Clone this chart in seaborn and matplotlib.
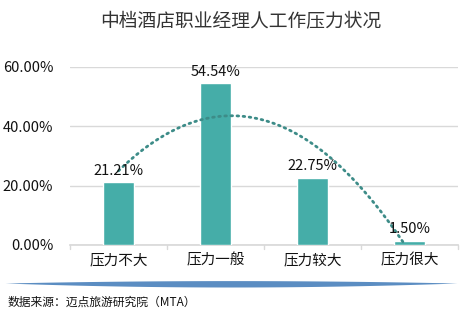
import numpy as np
import pandas as pd
import seaborn as sns
import matplotlib.pyplot as plt
from matplotlib.ticker import FuncFormatter

sns.set_theme(style='white')
plt.rcParams['font.family'] = ['Noto Sans CJK SC', 'DejaVu Sans']

categories = ['压力不大', '压力一般', '压力较大', '压力很大']
values = [21.21, 54.54, 22.75, 1.50]
title = '中档酒店职业经理人工作压力状况'
source = '数据来源：迈点旅游研究院（MTA）'

df = pd.DataFrame({'cat': categories, 'val': values})

fig = plt.figure(figsize=(4.64, 3.22), dpi=100)
ax = fig.add_axes([70 / 464, 1 - 245 / 322, 388 / 464, 178 / 322])

sns.barplot(data=df, x='cat', y='val', color='#45ADA8', width=0.32,
            saturation=1, ax=ax, zorder=3)

# excel style polynomial (order 2) trendline, clipped at 0
xs = np.arange(len(values))
coef = np.polyfit(xs, values, 2)
xt = np.linspace(0, len(values) - 1, 200)
yt = np.polyval(coef, xt)
keep = yt >= 0
ax.plot(xt[keep], yt[keep], color='#3D8C88', lw=2, ls=(0, (0.6, 1.6)),
        dash_capstyle='round', zorder=4)

for i, v in enumerate(values):
    ax.text(i, v + 1.5, f'{v:.2f}%', ha='center', va='bottom', fontsize=10.5,
            color='#111111', zorder=5)

ax.set_ylim(0, 60)
ax.set_xlim(-0.5, 3.5)
ax.set_yticks([0, 20, 40, 60])
ax.yaxis.set_major_formatter(FuncFormatter(lambda v, p: f'{v:.2f}%'))
ax.grid(axis='y', color='#D9D9D9', lw=1, zorder=0)
ax.set_xlabel('')
ax.set_ylabel('')
for s in ['top', 'right', 'left']:
    ax.spines[s].set_visible(False)
ax.spines['bottom'].set_color('#D9D9D9')
ax.tick_params(axis='y', length=0, labelsize=10.5, pad=12, labelcolor='#111111')
ax.tick_params(axis='x', length=0, labelsize=10.5, pad=6, labelcolor='#111111')
for b in np.arange(-0.5, 4, 1):
    ax.plot([b, b], [0, -1.5], color='#D9D9D9', lw=1, clip_on=False)

fig.text(0.52, 1 - 22 / 322, title, ha='center', va='center', fontsize=13.5,
         color='#333333')

# swoosh separator
sax = fig.add_axes([5 / 464, 1 - 287 / 322, 452 / 464, 8 / 322])
t = np.linspace(-1, 1, 200)
h = 1 - t ** 2
sax.fill_between(t, -h, h * 0.6, color='#5B8DC2', lw=0)
sax.set_xlim(-1, 1)
sax.set_ylim(-1, 1)
sax.axis('off')

fig.text(8 / 464, 1 - 302 / 322, source, ha='left', va='center', fontsize=8.5,
         color='#111111')

fig.savefig('out.png', dpi=100)
